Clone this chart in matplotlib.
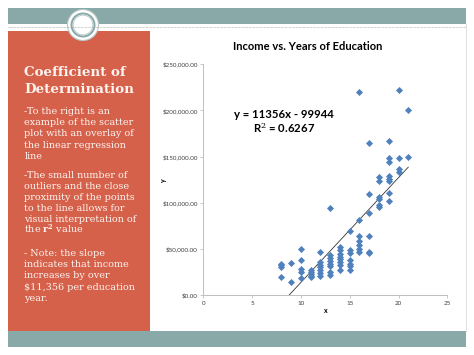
import matplotlib
matplotlib.use("Agg")
import matplotlib.pyplot as plt
from matplotlib.patches import Rectangle, Circle
from matplotlib.ticker import FuncFormatter
import numpy as np

# years of education (x) and income (y)
years = [8, 8, 8, 8,
         9, 9,
         10, 10, 10, 10, 10,
         11, 11, 11, 11, 11,
         12, 12, 12, 12, 12, 12, 12,
         13, 13, 13, 13, 13, 13, 13, 13,
         14, 14, 14, 14, 14, 14, 14, 14,
         15, 15, 15, 15, 15, 15, 15,
         16, 16, 16, 16, 16, 16, 16,
         17, 17, 17, 17, 17, 17,
         18, 18, 18, 18, 18, 18,
         19, 19, 19, 19, 19, 19, 19, 19,
         20, 20, 20, 20,
         21, 21]
income = [34000, 32000, 30000, 20000,
          35000, 14000,
          50000, 38000, 28000, 25000, 18000,
          27000, 25000, 23000, 21000, 19000,
          47000, 36000, 33000, 30000, 27000, 24000, 21000,
          94000, 43000, 40000, 37000, 34000, 31000, 25000, 22000,
          52000, 49000, 44000, 41500, 39000, 36000, 33000, 27000,
          69000, 49000, 46000, 38000, 34000, 31000, 27000,
          220000, 81000, 64000, 58000, 54000, 50000, 47000,
          165000, 109000, 89000, 64000, 47000, 45000,
          128000, 123000, 106000, 104000, 98000, 95000,
          167000, 148000, 144000, 129000, 126000, 124000, 111000, 102000,
          222000, 149000, 136000, 133000,
          201000, 150000]

slope = 11356
intercept = -99944
r2 = 0.6267

title = "Income vs. Years of Education"
heading = "Coefficient of\nDetermination"
para1 = ["-To the right is an", "example of the scatter", "plot with an overlay of",
         "the linear regression", "line"]
para2 = ["-The small number of", "outliers and the close", "proximity of the points",
         "to the line allows for", "visual interpretation of", "the $\\mathbf{r^2}$ value"]
para3 = ["- Note: the slope", "indicates that income", "increases by over",
         "$11,356 per education", "year."]

orange = "#D5614B"
teal = "#88A9A8"
blue = "#4F81BD"
plt.rcParams['mathtext.fontset'] = 'dejavuserif'

fig = plt.figure(figsize=(4.74, 3.55), dpi=100)
bg = fig.add_axes([0, 0, 1, 1])
bg.set_xlim(0, 474)
bg.set_ylim(355, 0)
bg.axis('off')

# slide decoration
bg.add_patch(Rectangle((8, 8), 458, 16, color=teal, lw=0))
bg.plot([8, 466], [26.5, 26.5], color="#A0A0A0", lw=0.5, ls=(0, (1, 1)))
bg.add_patch(Rectangle((8, 31), 142, 300, color=orange, lw=0))
bg.add_patch(Rectangle((8, 331), 458, 16, color=teal, lw=0))
bg.plot([466, 466], [24, 331], color="#D9D9D9", lw=0.6)
bg.add_patch(Circle((83, 25), 15.5, facecolor="white", edgecolor="#B5C8C8", lw=0.8))
bg.add_patch(Circle((83, 25), 11.5, facecolor="white", edgecolor=teal, lw=1.4))
bg.add_patch(Circle((83, 25), 9.8, facecolor="none", edgecolor="#A9C0C0", lw=0.5))

# left panel text, one line at a time so the spacing stays even
txt = "#FDF3EF"
bg.text(24.5, 93, heading, color=txt, family="DejaVu Serif", weight="bold",
        fontsize=9.6, va="baseline", linespacing=1.38)
for first, step, para in [(114.3, 11.1, para1), (178.3, 11.0, para2), (255.5, 11.4, para3)]:
    for i, line in enumerate(para):
        bg.text(24.5, first + i * step, line, color=txt, family="DejaVu Serif",
                fontsize=6.95, va="baseline")

# chart texts placed in slide coordinates
bg.text(308, 47, title, family="Lato", weight="bold", fontsize=8.0,
        ha="center", va="center", color="black")
bg.text(284, 122, "y = %dx - %d\nR$^2$ = %.4f" % (slope, -intercept, r2),
        family="Lato", weight="bold", fontsize=8.2, ha="center", va="center",
        multialignment="center", linespacing=1.15, color="black")

ax = fig.add_axes([203.3 / 474, 1 - 295 / 355, 244 / 474, 230.7 / 355])
ax.scatter(years, income, marker="D", s=13, color=blue, lw=0, zorder=3)
xl = np.array([min(years), max(years)])
ax.plot(xl, slope * xl + intercept, color="#333333", lw=0.6, zorder=2)
ax.set_xlim(0, 25)
ax.set_ylim(0, 250000)
ax.set_xticks(range(0, 26, 5))
ax.set_yticks(range(0, 250001, 50000))
ax.yaxis.set_major_formatter(FuncFormatter(lambda v, p: "${:,.2f}".format(v)))
for s in ["top", "right"]:
    ax.spines[s].set_visible(False)
for s in ["left", "bottom"]:
    ax.spines[s].set_color("#BFBFBF")
    ax.spines[s].set_linewidth(0.7)
ax.tick_params(colors="#BFBFBF", labelcolor="#404040", labelsize=4.5, length=2, width=0.6, pad=2)
for lab in ax.get_xticklabels() + ax.get_yticklabels():
    lab.set_family("Lato")
ax.set_xlabel("x", family="Lato", fontsize=5, weight="bold", labelpad=1)
ax.set_ylabel("y", family="Lato", fontsize=5, weight="bold")
ax.yaxis.set_label_coords(-0.149, 0.5)
ax.patch.set_alpha(0)

fig.savefig("out.png", dpi=100)
